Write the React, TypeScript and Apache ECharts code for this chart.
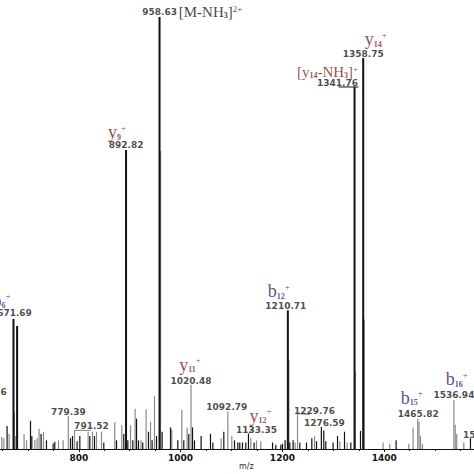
import { useEffect, useRef } from "react";
import * as echarts from "echarts";

// m/z axis
const AXIS_MIN = 600;
const AXIS_MAX = 1600;
const TICK_STEP = 200;
const AXIS_TITLE = "m/z";

// dark trace: m/z and relative intensity (%)
const darkMz = [
  624.36, 659.1, 671.69, 678.8, 705.1, 707.7, 725.9, 736.5, 749.5, 752.8,
  783.7, 787.6, 796.7, 802.0, 821.6, 830.8, 849.1, 874.1, 888.4, 892.82,
  896.3, 906.1, 913.4, 917.3, 925.7, 936.9, 944.0, 952.7, 958.63, 963.7,
  980.2, 994.5, 1006.3, 1016.1, 1023.4, 1027.3, 1040.3, 1058.7, 1063.3, 1084.9,
  1105.9, 1112.4, 1116.3, 1121.6, 1128.1, 1133.35, 1144.4, 1180.6, 1187.0, 1196.9,
  1200.2, 1205.3, 1210.71, 1214.5, 1221.0, 1234.2, 1247.3, 1257.8, 1267.0, 1276.59,
  1281.3, 1285.3, 1299.6, 1308.3, 1322.0, 1334.4, 1341.76, 1353.4, 1358.75, 1423.4,
  1569.5,
];
const darkIntensity = [
  12, 5.3, 30.1, 28.5, 6.5, 3, 3.5, 2, 1.3, 1.7,
  2.5, 3, 1.8, 3, 3, 3, 1.5, 2, 3.5, 69.2,
  2, 2, 7, 2, 1.5, 4, 2, 3, 100, 4,
  5, 2, 2, 3.5, 5, 2, 3, 3.5, 1.5, 4,
  2, 1.5, 1.5, 1.5, 1.5, 3.5, 1.5, 1.5, 1, 1,
  1.2, 2, 32.1, 1.5, 2, 1.5, 1.5, 2.5, 1.8, 5.1,
  4.3, 1.8, 1.5, 3, 4, 1.5, 83.8, 4.2, 90.5, 2,
  2.5,
];

// grey trace: m/z and relative intensity (%)
const greyMz = [
  648.7, 652.7, 663.1, 673.5, 676.2, 692.5, 697.3, 713.6, 718.1, 722.0,
  730.6, 760.1, 769.2, 779.39, 791.52, 818.3, 826.9, 834.8, 844.6, 870.7,
  884.5, 901.6, 910.6, 922.4, 932.2, 940.9, 948.7, 959.8, 982.7, 1002.4,
  1012.8, 1020.48, 1079.6, 1092.79, 1100.6, 1137.9, 1149.1, 1157.6, 1212.0, 1225.0,
  1229.76, 1263.1, 1312.8, 1327.1, 1343.0, 1360.0, 1397.8, 1411.0, 1448.3, 1456.8,
  1465.82, 1468.5, 1471.3, 1475.2, 1536.94, 1539.5, 1542.5, 1556.4, 1595.27,
];
const greyIntensity = [
  2.8, 2.5, 3.5, 8.5, 3, 3.5, 2, 2, 2.5, 4.7,
  4, 2, 2, 7.6, 4.3, 4, 4, 4, 4, 6.2,
  5.5, 5.5, 9.3, 2, 9.2, 6.3, 12.2, 69, 4.5, 9,
  5, 14.9, 2.5, 8.7, 3, 2.5, 2, 1.8, 20.6, 1.5,
  8.2, 3, 1.8, 1.5, 18, 30, 1.5, 1.2, 1.2, 5,
  7.0, 6.3, 3, 1.2, 11.3, 5.6, 3.5, 1.5, 2.1,
];

// peaks carrying an m/z label
const labelledMz = [
  958.63, 892.82, 1358.75, 1341.76, 1210.71, 671.69, 1020.48, 1536.94, 1465.82,
  1092.79, 779.39, 791.52, 1229.76, 1276.59, 1133.35, 624.36, 1595.27,
];

// fragment assignments (_ subscript, ^ superscript)
const ionMz = [958.63, 892.82, 1358.75, 1341.76, 1210.71, 671.69, 1020.48, 1133.35, 1465.82, 1536.94];
const ionNames = [
  "[M-NH_3]^2+", "y_9^+", "y_14^+", "[y_14-NH_3]^+", "b_12^+",
  "b_6^+", "y_11^+", "y_12^+", "b_15^+", "b_16^+",
];

const DARK = "#111111";
const GREY = "#8a8a8a";
const Y_ION = "#7e1d1d";
const B_ION = "#1d2868";
const LEADER = "#5a9e5a";

// the plotted m/z window is wider than the visible frame
const FRAME = 474;
const PLOT_LEFT = -23;
const PLOT_WIDTH = 509;

// label placement around each peak top, in pixels
const numberOffset: Record<string, [number, number]> = {
  "958.63": [0, -5.5],
  "892.82": [0, -5],
  "1358.75": [0, -4.5],
  "1341.76": [-17, -4],
  "1210.71": [-2, -4.5],
  "671.69": [1, -5.5],
  "1020.48": [0, -4],
  "1536.94": [0, -5.5],
  "1465.82": [0.5, -4.5],
  "1092.79": [-1, -4.5],
  "779.39": [0, -4.5],
  "791.52": [17, -4],
  "1229.76": [17, -3],
  "1276.59": [3, -3.5],
  "1133.35": [8, -4],
  "624.36": [0, -5],
  "1595.27": [0, -5],
};
const ionOffset: Record<string, [number, number]> = {
  "958.63": [51, -5],
  "892.82": [-9, -18],
  "1358.75": [12.5, -19],
  "1341.76": [-27, -15],
  "1210.71": [-9, -19],
  "671.69": [-12, -18],
  "1020.48": [-1, -20],
  "1133.35": [12, -18],
  "1465.82": [-6, -21],
  "1536.94": [3, -21],
};
// short connector strokes from a peak top towards its label
const leaders: Record<string, { from: [number, number]; to: [number, number]; color: string }> = {
  "791.52": { from: [0, 0], to: [16, 0], color: LEADER },
  "1229.76": { from: [0, 0], to: [12, 1], color: LEADER },
  "1133.35": { from: [0, 0], to: [5, -6], color: LEADER },
  "1341.76": { from: [-16, 0], to: [4, 0], color: DARK },
};

function intensityOf(mz: number): number {
  const d = darkMz.indexOf(mz);
  if (d >= 0) return darkIntensity[d];
  return greyIntensity[greyMz.indexOf(mz)];
}

function ionRich(name: string): string {
  const out: string[] = [];
  const re = /_([0-9]+)|\^([0-9+]+)|([^_^]+)/g;
  let t: RegExpExecArray | null;
  while ((t = re.exec(name))) {
    if (t[1]) out.push(`{sub|${t[1]}}`);
    else if (t[2]) out.push(`{sup|${t[2]}}`);
    else out.push(`{m|${t[3]}}`);
  }
  return out.join("");
}

function ionColor(name: string): string {
  if (name.startsWith("b")) return B_ION;
  if (name.includes("y")) return Y_ION;
  return DARK;
}

function peakSeries(mz: number[], inten: number[], color: string, name: string) {
  return {
    type: "custom",
    name,
    silent: true,
    data: mz.map((m, i) => [m, inten[i]]),
    encode: { x: 0, y: 1 },
    renderItem: (_params: any, api: any) => {
      const m = api.value(0) as number;
      const h = api.value(1) as number;
      const base = api.coord([m, 0]);
      const top = api.coord([m, h]);
      return {
        type: "line",
        shape: { x1: base[0], y1: base[1], x2: top[0], y2: top[1] },
        style: { stroke: color, lineWidth: h > 20 ? 2 : 1.2 },
      };
    },
  };
}

export default function App() {
  const ref = useRef<HTMLDivElement>(null);

  useEffect(() => {
    if (!ref.current) return;
    const chart = echarts.init(ref.current, undefined, { renderer: "svg" });

    const numberData = labelledMz.map((m) => ({
      value: [m, intensityOf(m)],
      label: { offset: numberOffset[m.toFixed(2)] ?? [0, -5] },
    }));

    const ionData = ionMz.map((m, i) => {
      const color = ionColor(ionNames[i]);
      const big = ionNames[i].startsWith("[") ? 15 : 18;
      return {
        value: [m, intensityOf(m)],
        label: {
          offset: ionOffset[m.toFixed(2)] ?? [0, -18],
          formatter: ionRich(ionNames[i]),
          rich: {
            m: { fontFamily: "Liberation Serif", fontSize: big, color },
            sub: {
              fontFamily: "Liberation Serif",
              fontSize: 8,
              fontWeight: "bold",
              color,
              verticalAlign: "bottom",
            },
            sup: {
              fontFamily: "Liberation Serif",
              fontSize: 9,
              color,
              verticalAlign: "top",
            },
          },
        },
      };
    });

    const leaderMz = labelledMz.filter((m) => leaders[m.toFixed(2)]);

    chart.setOption({
      animation: false,
      backgroundColor: "#ffffff",
      grid: {
        left: 0,
        right: 0,
        top: 17,
        bottom: 25,
        containLabel: false,
        outerBoundsMode: "none",
      },
      graphic: [
        {
          type: "text",
          left: 262,
          top: 462,
          silent: true,
          style: {
            text: AXIS_TITLE,
            fontFamily: "DejaVu Sans",
            fontSize: 8,
            fill: "#333",
          },
        },
      ],
      xAxis: {
        type: "value",
        min: AXIS_MIN,
        max: AXIS_MAX,
        interval: TICK_STEP,
        axisLine: { lineStyle: { color: "#111", width: 1 } },
        axisTick: { show: true, length: 3, lineStyle: { color: "#111" } },
        minorTick: { show: true, splitNumber: 4, length: 2, lineStyle: { color: "#111" } },
        splitLine: { show: false },
        axisLabel: {
          margin: 4,
          hideOverlap: false,
          fontFamily: "DejaVu Sans",
          fontWeight: "bold",
          fontSize: 9,
          color: "#111",
          formatter: (v: number) => String(v),
        },
      },
      yAxis: { type: "value", min: 0, max: 100, show: false },
      series: [
        peakSeries(greyMz, greyIntensity, GREY, "grey trace"),
        peakSeries(darkMz, darkIntensity, DARK, "dark trace"),
        {
          type: "custom",
          name: "leaders",
          silent: true,
          data: leaderMz.map((m) => [m, intensityOf(m)]),
          encode: { x: 0, y: 1 },
          renderItem: (_params: any, api: any) => {
            const m = api.value(0) as number;
            const top = api.coord([m, api.value(1)]);
            const l = leaders[m.toFixed(2)];
            return {
              type: "line",
              shape: {
                x1: top[0] + l.from[0],
                y1: top[1] + l.from[1],
                x2: top[0] + l.to[0],
                y2: top[1] + l.to[1],
              },
              style: { stroke: l.color, lineWidth: 1 },
            };
          },
        },
        {
          type: "scatter",
          name: "m/z labels",
          silent: true,
          symbol: "circle",
          symbolSize: 1,
          itemStyle: { color: "rgba(0,0,0,0)" },
          z: 5,
          data: numberData,
          label: {
            show: true,
            position: "inside",
            formatter: (p: any) => (p.value[0] as number).toFixed(2),
            fontFamily: "DejaVu Sans",
            fontWeight: "bold",
            fontSize: 9,
            color: "#1a1a1a",
          },
        },
        {
          type: "scatter",
          name: "ion labels",
          silent: true,
          symbol: "circle",
          symbolSize: 1,
          itemStyle: { color: "rgba(0,0,0,0)" },
          z: 6,
          data: ionData,
          label: { show: true, position: "inside" },
        },
      ],
    });

    return () => chart.dispose();
  }, []);

  return (
    <div
      style={{
        position: "fixed",
        left: 0,
        top: 0,
        width: FRAME,
        height: FRAME,
        overflow: "hidden",
        background: "#fff",
      }}
    >
      <div
        ref={ref}
        style={{ position: "absolute", left: PLOT_LEFT, top: 0, width: PLOT_WIDTH, height: FRAME }}
      />
    </div>
  );
}
